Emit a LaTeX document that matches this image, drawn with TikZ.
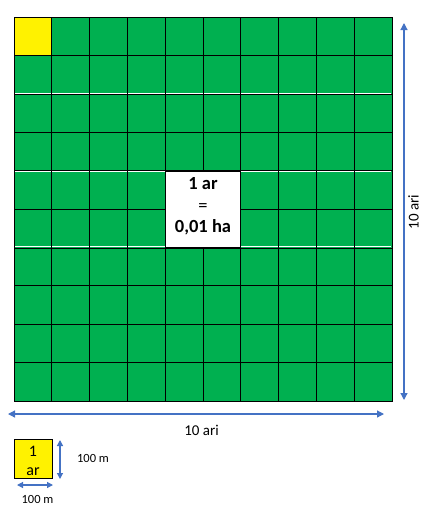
\documentclass[tikz,border=0pt]{standalone}
\usepackage{fontspec}
\setmainfont{Carlito}
\usetikzlibrary{arrows.meta}

\definecolor{field}{HTML}{00B050}
\definecolor{arblue}{HTML}{4472C4}

\tikzset{
    cell/.style={draw=black, line width=1pt},
    measure/.style={arblue, line width=1.2pt, {Triangle[length=7pt,width=7pt]}-{Triangle[length=7pt,width=7pt]}},
    smallmeasure/.style={arblue, line width=1.2pt, {Triangle[length=6pt,width=6pt]}-{Triangle[length=6pt,width=6pt]}},
    dimlabel/.style={font=\fontsize{15}{18}\selectfont, inner sep=0pt},
    smalllabel/.style={font=\fontsize{12.5}{15}\selectfont, inner sep=0pt}
}

\begin{document}
\begin{tikzpicture}[x=1pt,y=-1pt]
        \useasboundingbox (0,0) rectangle (432,512);

        % the field of 10 x 10 ari
        \fill [field] (14,17) rectangle (392,401);
        \fill [yellow] (14,17) rectangle (51.8,55.4);

        \draw [white, line width=1pt] (15,93) -- (391,93);
        \draw [white, line width=1pt] (15,171.5) -- (391,171.5);
        \draw [white, line width=1pt] (15,246.5) -- (391,246.5);

        \draw [cell] (51.8,17) -- (51.8,401);
        \draw [cell] (89.6,17) -- (89.6,401);
        \draw [cell] (127.4,17) -- (127.4,401);
        \draw [cell] (165.2,17) -- (165.2,401);
        \draw [cell] (203,17) -- (203,401);
        \draw [cell] (240.8,17) -- (240.8,401);
        \draw [cell] (278.6,17) -- (278.6,401);
        \draw [cell] (316.4,17) -- (316.4,401);
        \draw [cell] (354.2,17) -- (354.2,401);

        \draw [cell] (14,55.4) -- (392,55.4);
        \draw [cell] (14,94.5) -- (392,94.5);
        \draw [cell] (14,132.2) -- (392,132.2);
        \draw [cell] (14,170.4) -- (392,170.4);
        \draw [cell] (14,209) -- (392,209);
        \draw [cell] (14,248) -- (392,248);
        \draw [cell] (14,285.8) -- (392,285.8);
        \draw [cell] (14,324.2) -- (392,324.2);
        \draw [cell] (14,362.6) -- (392,362.6);

        \draw [cell] (14,17) rectangle (392,401);

        % the middle box
        \node [cell, fill=white, minimum width=75.6pt, minimum height=75.6pt, inner sep=0pt] (hectbox) at (203,209.5) {};
        \node [font=\bfseries\fontsize{18.5}{21.5}\selectfont, align=center, inner sep=0pt] (hectlabel) at (203,206.5) {1 ar\\{\mdseries =}\\0,01 ha};

        % sizes of the field
        \coordinate (vtop) at (404,23);
        \coordinate (vbot) at (404,400);
        \coordinate (hleft) at (8,414);
        \coordinate (hright) at (384,414);
        \draw [measure] (vtop) -- (vbot);
        \draw [measure] (hleft) -- (hright);
        \node [dimlabel, rotate=90] (sidelabel) at (413.5,212) {10 ari};
        \node [dimlabel] (baselabel) at (201.5,430) {10 ari};

        % one ar
        \node [cell, fill=yellow, minimum width=38pt, minimum height=39pt, inner sep=0pt] (onear) at (33,458.5) {};
        \node [font=\fontsize{16}{19}\selectfont, align=center, inner sep=0pt] (onearlabel) at (33,461) {1\\ar};
        \coordinate (stop) at (60,440);
        \coordinate (sbot) at (60,479);
        \coordinate (sleft) at (17,485);
        \coordinate (sright) at (53,485);
        \draw [smallmeasure] (stop) -- (sbot);
        \draw [smallmeasure] (sleft) -- (sright);
        \node [smalllabel] (sidem) at (93,458.5) {100 m};
        \node [smalllabel] (basem) at (37.5,499) {100 m};
\end{tikzpicture}
\end{document}
